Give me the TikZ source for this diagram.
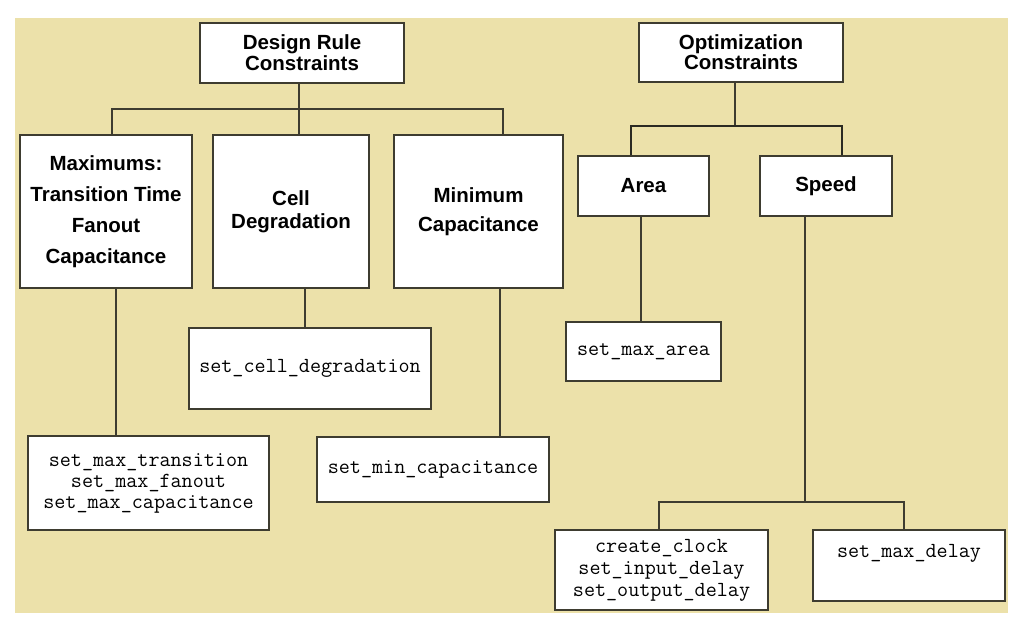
\documentclass[tikz,border=0pt]{standalone}
\usepackage{fontspec}
\setmainfont{Liberation Sans}
\definecolor{paper}{RGB}{236,225,170}
\definecolor{ink}{RGB}{62,60,48}
\tikzset{
  hbox/.style={draw=ink, fill=white, line width=1.3pt, inner sep=0pt, align=center},
  cmdbox/.style={draw=ink, fill=white, line width=1.3pt, inner sep=0pt, align=center},
  hfont/.style={font=\bfseries\fontsize{20.5}{#1}\selectfont},
  tfont/.style={font=\ttfamily\fontsize{21.5}{#1}\selectfont},
  tree/.style={draw=ink, line width=1.3pt},
  bar/.style={draw=ink!70!black, line width=2.8pt}
}
\begin{document}
\begin{tikzpicture}[x=1pt,y=-1pt]
\useasboundingbox (0,0) rectangle (1019,626);
\fill[paper] (15,18) rectangle (1008,613);
% design rule side
\node[hbox,hfont=21,minimum width=204,minimum height=60] (drc) at (302,53) {Design Rule\\Constraints};
\node[hbox,hfont=31,minimum width=172,minimum height=153] (maxi) at (106,211.5) {Maximums:\\Transition Time\\Fanout\\Capacitance};
\node[hbox,hfont=23,minimum width=156,minimum height=153] (cell) at (291,211.5) {Cell\\Degradation};
\node[hbox,hfont=29,minimum width=169,minimum height=153] (minc) at (478.5,211.5) {Minimum\\Capacitance};
\node[cmdbox,tfont=21,minimum width=242,minimum height=81] (scd) at (310,368.5) {set\_cell\_degradation};
\node[cmdbox,tfont=21,minimum width=241,minimum height=94] (smt) at (148.5,483) {set\_max\_transition\\set\_max\_fanout\\set\_max\_capacitance};
\node[cmdbox,tfont=21,minimum width=232,minimum height=65] (smc) at (433,469.5) {set\_min\_capacitance};
% optimization side
\node[hbox,hfont=20,minimum width=204,minimum height=59] (opt) at (741,52.5) {Optimization\\Constraints};
\node[hbox,hfont=23,minimum width=131,minimum height=60] (area) at (643.5,186) {Area};
\node[hbox,hfont=23,minimum width=132,minimum height=60] (speed) at (826,186) {Speed};
\node[cmdbox,tfont=21,minimum width=155,minimum height=59] (sma) at (643.5,351.5) {set\_max\_area};
\node[cmdbox,tfont=22,minimum width=213,minimum height=80] (cc) at (661.5,570) {create\_clock\\set\_input\_delay\\set\_output\_delay};
\node[cmdbox,tfont=22,minimum width=192,minimum height=71] (smd) at (909,565.5) {set\_max\_delay\\\strut};
% connectors
\coordinate (bar1) at (0,109);
\coordinate (bar2) at (0,126);
\coordinate (bar3) at (0,502);
\draw[tree] ([xshift=-3]drc.south) -- ([xshift=-3]drc.south |- bar1);
\draw[tree] ([xshift=6]maxi.north) |- ([xshift=24.5]minc.north |- bar1) -- ([xshift=24.5]minc.north);
\draw[tree] ([xshift=8]cell.north) -- ([xshift=8]cell.north |- bar1);
\draw[tree] ([xshift=10]maxi.south) -- ([xshift=10]maxi.south |- smt.north);
\draw[tree] ([xshift=14]cell.south) -- ([xshift=14]cell.south |- scd.north);
\draw[tree] ([xshift=21.5]minc.south) -- ([xshift=21.5]minc.south |- smc.north);
\draw[tree] ([xshift=-6]opt.south) -- ([xshift=-6]opt.south |- bar2);
\draw[bar] ([xshift=-12.5]area.north) |- ([xshift=16]speed.north |- bar2) -- ([xshift=16]speed.north);
\draw[tree] ([xshift=-2.5]area.south) -- ([xshift=-2.5]area.south |- sma.north);
\draw[tree] ([xshift=-21]speed.south) -- ([xshift=-21]speed.south |- bar3);
\draw[tree] ([xshift=-2.5]cc.north) |- ([xshift=-5]smd.north |- bar3) -- ([xshift=-5]smd.north);
\end{tikzpicture}
\end{document}
